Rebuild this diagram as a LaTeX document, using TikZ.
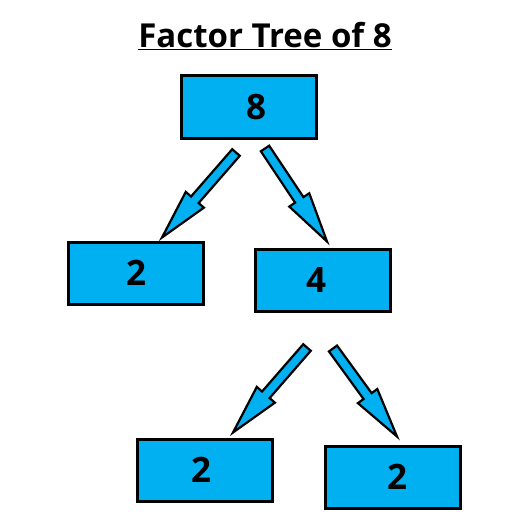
\documentclass[tikz,border=0pt]{standalone}
\usepackage{fontspec}
\setmainfont{Open Sans}
\usepackage{xcolor}
\usetikzlibrary{calc, positioning}
\definecolor{boxblue}{HTML}{00B0F0}
\tikzset{
  numbox/.style = {
    rectangle, draw=black, fill=boxblue, line width=3pt,
    minimum width=135pt, minimum height=62pt, inner sep=0pt,
    font=\fontsize{35}{35}\selectfont\bfseries
  },
  blockarr/.style = {draw=black, fill=boxblue, line width=2.2pt, line join=miter}
}
% block arrow from tail #1 to tip #2
\newcommand{\blockarrow}[2]{%
  \coordinate (hb) at ($(#2)!50pt!(#1)$);
  \path[blockarr] ($(#1)!5pt!90:(#2)$) -- ($(hb)!5pt!90:(#2)$) -- ($(hb)!12pt!90:(#2)$)
    -- (#2) -- ($(hb)!12pt!-90:(#2)$) -- ($(hb)!5pt!-90:(#2)$) -- ($(#1)!5pt!-90:(#2)$) -- cycle;
}

\begin{document}
\begin{tikzpicture}[x=1pt, y=-1pt]
\useasboundingbox (0,0) rectangle (512,516);

\node[font=\fontsize{33}{33}\selectfont\bfseries] (title) at (265,36)
  {\setlength{\fboxsep}{0pt}\underline{Factor Tree of 8}};

\node[numbox] (n8) at (249,107) {\hspace*{14pt}8};
\node[numbox] (n2a) at (136,273) {2};
\node[numbox] (n4) at (323,280) {4\hspace*{14pt}};
\node[numbox] (n2b) at (205,470) {2\hspace*{8pt}};
\node[numbox] (n2c) at (393,477) {\hspace*{8pt}2};

\coordinate (t1) at ($(n8.south)+(-13,13)$);
\coordinate (h1) at ($(n2a.north)+(26,-3)$);
\coordinate (t2) at ($(n8.south)+(16,9)$);
\coordinate (h2) at ($(n4.north)+(4,-6)$);
\coordinate (t3) at ($(n4.south)+(-16,35)$);
\coordinate (h3) at ($(n2b.north)+(28,-5)$);
\coordinate (t4) at ($(n4.south)+(10,36)$);
\coordinate (h4) at ($(n2c.north)+(4,-8)$);

\foreach \a/\b in {t1/h1, t2/h2, t3/h3, t4/h4}
  \blockarrow{\a}{\b};

\end{tikzpicture}
\end{document}
